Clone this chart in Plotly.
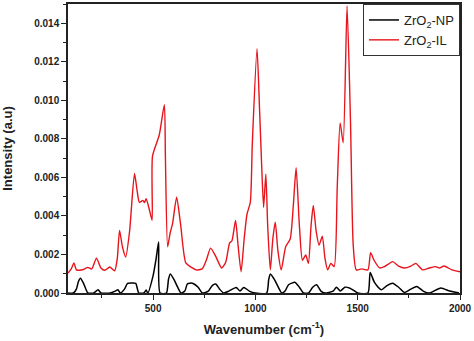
import plotly.graph_objects as go

# ZrO2-IL (red)
il_w = [84, 100, 113, 125, 140, 160, 181, 200, 223, 245, 264, 288, 312, 325, 336, 350, 366, 385, 409, 422,
        433, 450, 458, 466, 480, 495, 497, 530, 555, 560, 571, 583, 595, 615, 635, 660, 692, 710, 740, 760,
        781, 806, 835, 855, 874, 885, 903, 915, 930, 945, 959, 975, 985, 1008, 1020, 1030, 1040, 1051, 1060, 1073,
        1085, 1097, 1110, 1126, 1148, 1170, 1185, 1199, 1215, 1230, 1246, 1259, 1272, 1283, 1297, 1311, 1327, 1340, 1353, 1369,
        1385, 1400, 1414, 1429, 1448, 1465, 1478, 1493, 1520, 1550, 1563, 1580, 1607, 1631, 1650, 1671, 1700, 1728, 1760, 1784,
        1817, 1850, 1881, 1900, 1922, 1960, 2000]
il_v = [0.00104, 0.00125, 0.00156, 0.0012, 0.00118, 0.00122, 0.00133, 0.00125, 0.00181, 0.0013, 0.00118, 0.00135, 0.00115, 0.0018, 0.00325, 0.0024, 0.00187, 0.0032, 0.0062, 0.0053,
        0.0047, 0.0048, 0.0047, 0.0049, 0.0044, 0.00377, 0.0071, 0.0082, 0.00977, 0.0071, 0.0024, 0.0031, 0.0036, 0.00497, 0.0035, 0.00156, 0.0013, 0.0012, 0.00125, 0.0017,
        0.00233, 0.0019, 0.0013, 0.0016, 0.0026, 0.0027, 0.00377, 0.0025, 0.0011, 0.0028, 0.0041, 0.0047, 0.0078, 0.01268, 0.0096, 0.0068, 0.00445, 0.00617, 0.0035, 0.0012,
        0.0028, 0.00368, 0.0022, 0.0012, 0.0024, 0.0028, 0.0045, 0.0065, 0.0035, 0.0017, 0.00197, 0.00154, 0.0035, 0.00454, 0.0032, 0.00248, 0.00295, 0.0018, 0.0012, 0.00154,
        0.00137, 0.0055, 0.00882, 0.0078, 0.0149, 0.0088, 0.0025, 0.0012, 0.00125, 0.0012, 0.00209, 0.0017, 0.0013, 0.00137, 0.0015, 0.00163, 0.0014, 0.0013, 0.0014, 0.00154,
        0.0012, 0.0013, 0.00137, 0.0013, 0.0014, 0.0012, 0.0011]

# ZrO2-NP (black)
np_w = [84, 110, 125, 135, 145, 160, 181, 210, 231, 245, 290, 315, 328, 340, 360, 375, 395, 415, 430, 455,
        466, 474, 500, 515, 527, 534, 565, 575, 584, 603, 620, 636, 655, 668, 692, 720, 741, 770, 790, 806,
        825, 845, 870, 906, 925, 943, 970, 1000, 1055, 1065, 1073, 1094, 1112, 1129, 1145, 1162, 1194, 1215, 1235, 1260,
        1280, 1299, 1320, 1340, 1380, 1396, 1415, 1437, 1462, 1501, 1550, 1561, 1582, 1615, 1645, 1671, 1700, 1728, 1760, 1789,
        1820, 1850, 1906, 1950, 1995]
np_v = [0.0, 0.0, 0.0002, 0.0006, 0.00077, 0.0005, 0.0, 0.0, 0.00017, 0.0, 0.0, 0.0001, 0.00017, 0.0, 0.0002, 0.0005, 0.00052, 0.0005, 0.0, 0.0,
        0.00015, 0.0, 0.0009, 0.0018, 0.00265, 0.0, 0.0, 0.0007, 0.00099, 0.00068, 0.0003, 0.0, 0.0001, 0.00048, 0.00051, 0.0003, 0.0, 0.0001, 0.0004, 0.00047,
        0.0002, 0.0, 0.0001, 0.00029, 0.0001, 0.00029, 0.0001, 0.0, 0.0, 0.0007, 0.00099, 0.00068, 0.0003, 0.0, 0.0001, 0.00043, 0.00055, 0.0003, 0.0, 0.0,
        0.0003, 0.00043, 0.0001, 0.0, 0.0001, 0.0003, 0.0001, 0.0003, 0.00025, 0.0, 0.0, 0.00106, 0.00055, 0.00017, 0.0004, 0.00051, 0.0003, 0.00003, 0.0002, 0.00034,
        0.0001, 0.0, 0.00026, 0.0001, 0.0]

FONT = "Liberation Sans, Arial, sans-serif"

fig = go.Figure()
fig.add_trace(go.Scatter(x=np_w, y=np_v, mode="lines", name="ZrO<sub>2</sub>-NP",
                         line=dict(color="black", width=1.5, shape="spline", smoothing=0.6)))
fig.add_trace(go.Scatter(x=il_w, y=il_v, mode="lines", name="ZrO<sub>2</sub>-IL",
                         line=dict(color="#e8141c", width=1.4, shape="spline", smoothing=0.6)))

fig.update_layout(
    width=474, height=341,
    margin=dict(l=68, r=12, t=2, b=48),
    paper_bgcolor="white", plot_bgcolor="white",
    showlegend=True,
    legend=dict(x=1, y=1, xanchor="right", yanchor="top", bgcolor="white",
                bordercolor="#333", borderwidth=1,
                font=dict(family=FONT, size=13, color="#222"),
                tracegroupgap=0, itemwidth=30),
    xaxis=dict(range=[84, 2000], tickvals=[500, 1000, 1500, 2000], ticks="outside", ticklen=5,
               tickwidth=1.2, tickcolor="#222", showline=True, linecolor="#222", linewidth=1.5, mirror=True,
               showgrid=False, zeroline=False,
               tickfont=dict(family=FONT, size=10, color="#222", weight="bold"),
               minor=dict(tickvals=[250, 750, 1250, 1750], ticks="outside", ticklen=3, tickcolor="#222"),
               title=dict(text="Wavenumber (cm<sup>-1</sup>)", standoff=12,
                          font=dict(family=FONT, size=13, color="#222", weight="bold"))),
    yaxis=dict(range=[0, 0.015], dtick=0.002, tickformat=".3f", ticks="outside", ticklen=5,
               tickwidth=1.2, tickcolor="#222", showline=True, linecolor="#222", linewidth=1.5, mirror=True,
               showgrid=False, zeroline=False,
               tickfont=dict(family=FONT, size=10, color="#222", weight="bold"),
               minor=dict(dtick=0.001, ticks="outside", ticklen=3, tickcolor="#222"),
               title=dict(text="Intensity (a.u)", standoff=20,
                          font=dict(family=FONT, size=13, color="#222", weight="bold"))),
)
fig.write_html("out.html")
